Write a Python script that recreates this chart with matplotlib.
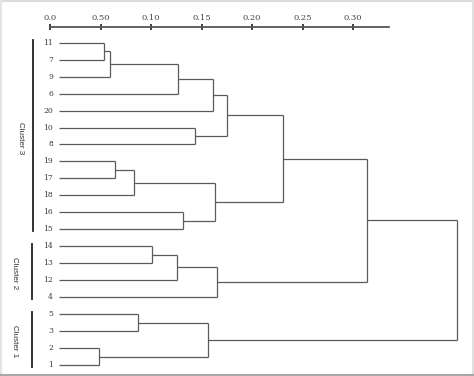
import numpy as np
import matplotlib
matplotlib.use("Agg")
import matplotlib.pyplot as plt
from matplotlib.lines import Line2D

# leaf labels, top to bottom
leaves = ["11", "7", "9", "6", "20", "10", "8", "19", "17", "18", "16", "15",
          "14", "13", "12", "4", "5", "3", "2", "1"]

# merges: node ids 0..19 are leaves (by row), new nodes get 20, 21, ...
merge_left = [0, 20, 21, 22, 5, 23, 7, 26, 10, 27, 25, 12, 31, 32, 30, 16, 18, 35, 34]
merge_right = [1, 2, 3, 4, 6, 24, 8, 9, 11, 28, 29, 13, 14, 15, 33, 17, 19, 36, 37]
merge_height = [0.0535, 0.059, 0.127, 0.161, 0.1436, 0.175, 0.064, 0.0835, 0.132,
                0.1637, 0.2304, 0.1007, 0.1257, 0.1657, 0.3135, 0.0871, 0.0488,
                0.1564, 0.4027]

tick_vals = [0.0, 0.05, 0.10, 0.15, 0.20, 0.25, 0.30]
tick_labels = ["0.0", "0.50", "0.10", "0.15", "0.20", "0.25", "0.30"]

cluster_names = ["Cluster 3", "Cluster 2", "Cluster 1"]
cluster_first = [0, 12, 16]
cluster_last = [11, 15, 19]

line_col = "#5a5a5a"
leaf_start = 0.009

fig = plt.figure(figsize=(4.74, 3.76), dpi=100)
ax = fig.add_axes([50 / 474, 2.5 / 376, 410 / 474, 339.3 / 376])
ax.set_xlim(0, 410 / 1010)
ax.set_ylim(19.5, -0.5)

# position/height of each node
xpos = {i: leaf_start for i in range(len(leaves))}
ypos = {i: float(i) for i in range(len(leaves))}
for k, (a, b, h) in enumerate(zip(merge_left, merge_right, merge_height)):
    node = len(leaves) + k
    for c in (a, b):
        ax.plot([xpos[c], h], [ypos[c], ypos[c]], color=line_col, lw=0.9,
                solid_capstyle="butt")
    ax.plot([h, h], [ypos[a], ypos[b]], color=line_col, lw=0.9,
            solid_capstyle="butt")
    xpos[node] = h
    ypos[node] = (ypos[a] + ypos[b]) / 2

for i, lab in enumerate(leaves):
    ax.text(0.003, i, lab, ha="right", va="center", fontsize=5.5,
            family="DejaVu Serif", color="#3a3a3a")

# cluster brackets and names
br_x = [-0.0168, -0.018, -0.0178]
txt_x = [-0.0297, -0.0347, -0.0347]
for name, f, l, bx, tx in zip(cluster_names, cluster_first, cluster_last, br_x, txt_x):
    ax.plot([bx, bx], [f - 0.15, l + 0.1], color="#222222", lw=1.3, clip_on=False)
    ax.text(tx, (f + l) / 2 + 0.1, name, rotation=270, ha="center", va="center",
            fontsize=5.9, family="Liberation Sans",
            color="#333333", clip_on=False)

# top scale axis
for s in ["left", "right", "bottom"]:
    ax.spines[s].set_visible(False)
ax.spines["top"].set_position(("outward", 5.4))
ax.spines["top"].set_bounds(0, 0.3356)
ax.spines["top"].set_color("#555555")
ax.spines["top"].set_linewidth(1.3)
ax.xaxis.tick_top()
ax.set_xticks(tick_vals)
ax.set_xticklabels(tick_labels, family="DejaVu Serif", fontsize=6, color="#444444")
ax.tick_params(axis="x", direction="inout", length=4, width=1.3, color="#333333", pad=1.5)
ax.set_yticks([])

# picture frame
fig.add_artist(Line2D([0, 1], [1 - 1 / 376, 1 - 1 / 376], transform=fig.transFigure,
                      color="#dcdcdc", lw=1.6))
fig.add_artist(Line2D([1 / 474, 1 / 474], [0, 1], transform=fig.transFigure,
                      color="#e4e4e4", lw=1.6))
fig.add_artist(Line2D([1 - 1.5 / 474, 1 - 1.5 / 474], [0, 1], transform=fig.transFigure,
                      color="#e0e0e0", lw=2.2))
fig.add_artist(Line2D([0, 1], [1.5 / 376, 1.5 / 376], transform=fig.transFigure,
                      color="#a8a8a8", lw=2.2))

fig.savefig("out.png", dpi=100)
